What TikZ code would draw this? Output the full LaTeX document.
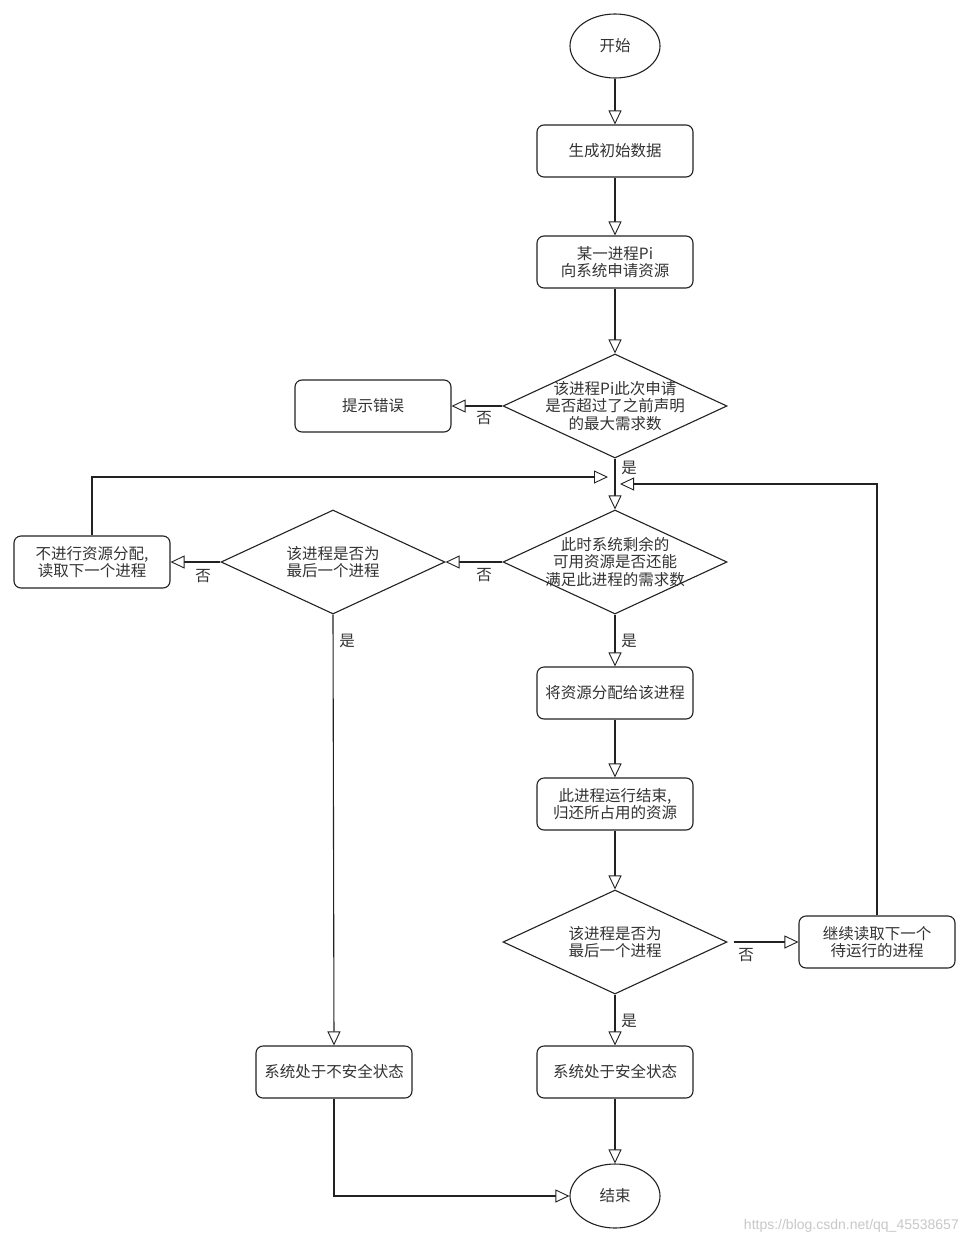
\documentclass[tikz,border=0pt]{standalone}
\usepackage{fontspec}
\setmainfont{Noto Sans CJK SC}
\newfontfamily\wmfont{Liberation Sans}
\usetikzlibrary{shapes.geometric,arrows.meta}
\definecolor{ln}{HTML}{222222}
\definecolor{tx}{HTML}{333333}
\definecolor{wm}{HTML}{C8C8C8}
\tikzset{
  every node/.style={font=\fontsize{15.5}{17.5}\selectfont, text=tx},
  box/.style={draw=ln, line width=1.1pt, rounded corners=7pt, minimum width=156pt, minimum height=52pt, align=center, inner sep=0pt},
  term/.style={draw=ln, line width=1.1pt, ellipse, minimum width=90pt, minimum height=64pt, inner sep=0pt},
  dia/.style={draw=ln, line width=1.1pt, diamond, minimum width=224pt, minimum height=104pt, inner sep=0pt},
  dtext/.style={align=center, inner sep=0pt},
  arr/.style={draw=ln, line width=1.1pt, -{Triangle[length=14pt, width=13pt, line width=0.9pt, fill=white]}},
  lab/.style={inner sep=0pt}
}
\begin{document}
\begin{tikzpicture}[x=1pt,y=-1pt]
\useasboundingbox[fill=white] (0,0) rectangle (969,1244);
\node[term] (start) at (615,46) {开始};
\node[box] (init) at (615,151) {生成初始数据};
\node[box] (req) at (615,262) {某一进程Pi\\向系统申请资源};
\node[dia] (d1) at (615,406) {};
\node[dtext] (d1t) at (615,406) {该进程Pi此次申请\\是否超过了之前声明\\的最大需求数};
\node[box] (err) at (373,406) {提示错误};
\node[dia] (d2) at (615,562) {};
\node[dtext] (d2t) at (615,562) {此时系统剩余的\\可用资源是否还能\\满足此进程的需求数};
\node[dia] (d3) at (333,562) {};
\node[dtext] (d3t) at (333,562) {该进程是否为\\最后一个进程};
\node[box] (nb) at (92,562) {不进行资源分配,\\读取下一个进程};
\node[box] (alloc) at (615,693) {将资源分配给该进程};
\node[box] (fin) at (615,804) {此进程运行结束,\\归还所占用的资源};
\node[dia] (d4) at (615,942) {};
\node[dtext] (d4t) at (615,942) {该进程是否为\\最后一个进程};
\node[box] (cont) at (877,942) {继续读取下一个\\待运行的进程};
\node[box] (unsafe) at (334,1072) {系统处于不安全状态};
\node[box] (safe) at (615,1072) {系统处于安全状态};
\node[term] (end) at (615,1196) {结束};
\coordinate (jl) at (608,477);
\coordinate (jr) at (620,484);

\draw[arr] (start) -- (init);
\draw[arr] (init) -- (req);
\draw[arr] (req) -- (d1);
\draw[arr] (d1.west) -- (err.east);
\node[lab] (l1) at (484,418) {否};
\draw[arr] (d1.south) -- (d2.north);
\node[lab] (l2) at (629,468) {是};
\draw[arr] (nb.north) |- (jl);
\draw[arr] (cont.north) |- (jr);
\draw[arr] (d2.west) -- (d3.east);
\node[lab] (l3) at (484,575) {否};
\draw[arr] (d3.west) -- (nb.east);
\node[lab] (l4) at (203,576) {否};
\draw[arr] (d3.south) -- (unsafe.north);
\node[lab] (l5) at (347,641) {是};
\draw[arr] (d2.south) -- (alloc.north);
\node[lab] (l6) at (629,641) {是};
\draw[arr] (alloc) -- (fin);
\draw[arr] (fin) -- (d4);
\draw[arr, shorten <=6pt] (d4.east) -- (cont.west);
\node[lab] (l7) at (746,955) {否};
\draw[arr] (d4.south) -- (safe.north);
\node[lab] (l8) at (629,1021) {是};
\draw[arr] (safe) -- (end);
\draw[arr] (unsafe.south) |- (end.west);
\node[anchor=east, text=wm, font=\wmfont\fontsize{14}{16}\selectfont, inner sep=0pt] (wmk) at (959,1226) {https://blog.csdn.net/qq\_45538657};
\end{tikzpicture}
\end{document}
